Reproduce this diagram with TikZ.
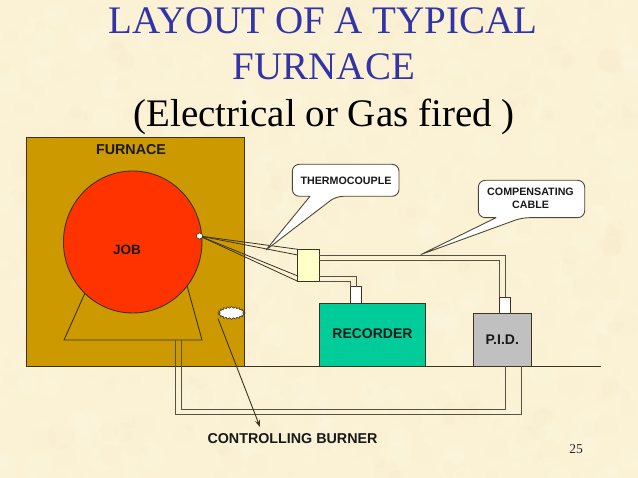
\documentclass[tikz,border=0pt]{standalone}
\usepackage{fontspec}
\usetikzlibrary{arrows.meta,shapes.geometric}
\setmainfont{Liberation Serif}
\setsansfont{Liberation Sans}
\definecolor{paper}{HTML}{FBF2D6}
\definecolor{blotA}{HTML}{FFFAEA}
\definecolor{blotB}{HTML}{F1E4BC}
\definecolor{titleblue}{HTML}{3333A8}
\definecolor{furn}{HTML}{CC9900}
\definecolor{jobred}{HTML}{FF3300}
\definecolor{edge}{HTML}{3A3320}
\definecolor{recgreen}{HTML}{00CC99}
\definecolor{pidgrey}{HTML}{C0C0C0}
\definecolor{tcyellow}{HTML}{FFFFC8}
\tikzset{
  px/.style={x=1pt,y=-1pt},
  ln/.style={draw=edge,line width=0.9pt},
  wire/.style={draw=edge!85!white,line width=0.8pt},
  boxn/.style={ln,inner sep=0pt,outer sep=0pt},
  lbl/.style={font=\sffamily\bfseries,text=black!90,inner sep=0pt,align=center},
  ttl/.style={font=\fontsize{39}{44}\selectfont,inner sep=0pt,anchor=base},
  callout/.style={draw=edge!90!white,fill=white,line width=0.9pt,line join=round},
  big/.style={font=\sffamily\bfseries\fontsize{14}{16}\selectfont},
  small/.style={font=\sffamily\bfseries\fontsize{10.7}{13.5}\selectfont}
}
\begin{document}
\begin{tikzpicture}[px]
\useasboundingbox (0,0) rectangle (638,478);
\fill[paper] (0,0) rectangle (638,478);
\pgfmathsetseed{4711}
\foreach \i in {1,...,700}{
  \pgfmathsetmacro{\xa}{random(0,638)}
  \pgfmathsetmacro{\ya}{random(0,478)}
  \pgfmathsetmacro{\ra}{random(3,13)}
  \pgfmathtruncatemacro{\pick}{random(0,1)}
  \ifnum\pick=0
    \fill[blotA,opacity=.13] (\xa,\ya) circle[radius=\ra];
  \else
    \fill[blotB,opacity=.09] (\xa,\ya) circle[radius=\ra];
  \fi
}
% title
\node[ttl,text=titleblue] (t1) at (323,33.5) {LAYOUT OF A TYPICAL};
\node[ttl,text=titleblue] (t2) at (324,80) {FURNACE};
\node[ttl,text=black] (t3) at (324,126.5) {(Electrical or Gas fired )};
% furnace
\node[boxn,fill=furn,minimum width=218pt,minimum height=229.5pt] (furnace) at (135.5,251.75) {};
% base line
\coordinate (lineend) at (601,366.5);
\draw[ln] (furnace.south east) -- (lineend);
% trapezoid stand
\coordinate (tl) at (85,293);
\coordinate (tr) at (186,282);
\coordinate (bl) at (64,340);
\coordinate (br) at (202,340);
\draw[ln] (tl) -- (bl) -- (br) -- (tr);
% job
\node[boxn,ellipse,fill=jobred,minimum width=138.5pt,minimum height=142pt] (job) at (132.7,242) {};
\node[lbl,font=\sffamily\bfseries\fontsize{13.5}{16}\selectfont] (joblbl) at (127,250) {JOB};
\node[lbl,font=\sffamily\bfseries\fontsize{14.3}{16}\selectfont] (furnlbl) at (131,150) {FURNACE};
% boxes
\node[boxn,fill=pidgrey,minimum width=58.6pt,minimum height=53.5pt,lbl,big] (pid) at (502.3,339.75) {P.I.D.};
\node[boxn,fill=recgreen,minimum width=106pt,minimum height=63.5pt] (rec) at (372,334.75) {};
\node[lbl,big] (reclbl) at (372.5,334) {RECORDER};
% pipes under the furnace to the PID
\coordinate (p1) at (175,340);
\coordinate (p2) at (181,340);
\coordinate (p3) at (505,366.5);
\coordinate (p4) at (521,366.5);
\coordinate (q1) at (175,414);
\coordinate (q2) at (181,409);
\draw[wire] (p1) -- (q1) -| (p4);
\draw[wire] (p2) -- (q2) -| (p3);
% thermocouple head and plugs
\node[boxn,fill=tcyellow,minimum width=21.3pt,minimum height=32pt] (tc) at (308.4,265.3) {};
\node[boxn,fill=white,minimum width=10.8pt,minimum height=16.3pt] (recplug) at (356.1,294.85) {};
\node[boxn,fill=white,minimum width=11.2pt,minimum height=16pt] (pidplug) at (504.9,305) {};
% junction dot and wires
\node[boxn,circle,fill=white,minimum size=6pt,line width=.5pt] (dot) at (199.5,236) {};
\draw[ln,line width=.8pt] (dot.center) -- (tc.north west);
\draw[ln,line width=.8pt] (dot.center) -- ([yshift=-5.7pt]tc.north west);
\draw[ln,line width=.8pt] (dot.center) -- ([yshift=5.3pt]tc.south west);
\draw[ln,line width=.8pt] (dot.center) -- (tc.south west);
\node[boxn,circle,fill=white,minimum size=6pt,line width=.5pt] (dottop) at (dot) {};
% wires from head
\coordinate (a1) at (319,255);
\coordinate (a2) at (319,260);
\coordinate (a3) at (319,276);
\coordinate (a4) at (319,281.3);
\coordinate (b1) at (505,297);
\coordinate (b3) at (356,286.7);
\draw[wire] (a1) -| (b1);
\draw[wire] (a2) -| (pidplug.north west);
\draw[wire] (a3) -| (b3);
\draw[wire] (a4) -| (recplug.north west);
% burner
\draw[draw=edge,fill=white,line width=.6pt,line join=miter]
  plot[samples=41,domain=0:360] ({231.5+(13.6-mod(round(\x/9),2)*2)*cos(\x)},{313+(6.4-mod(round(\x/9),2)*1.5)*sin(\x)}) -- cycle;
% arrow
\coordinate (arA) at (218,318.5);
\coordinate (arB) at (260,427);
\draw[ln,-{Stealth[length=7pt,width=5pt]}] (arA) -- (arB);
\node[lbl,font=\sffamily\bfseries\fontsize{14.3}{17}\selectfont] (burnlbl) at (292.5,439) {CONTROLLING BURNER};
% callouts
\coordinate (tip1) at (266,250);
\coordinate (tip2) at (421,254.5);
\draw[callout,rounded corners=7pt] (292.3,164.3) -- (399,164.3) -- (399,196.3) -- (336,196.3) [sharp corners] -- (tip1) -- (310,196.3) [rounded corners=7pt] -- (292.3,196.3) -- cycle;
\node[lbl,small] (tclbl) at (346,181) {THERMOCOUPLE};
\draw[callout,rounded corners=7pt] (478.3,180.3) -- (584.7,180.3) -- (584.7,217.7) -- (522,217.7) [sharp corners] -- (tip2) -- (496,217.7) [rounded corners=7pt] -- (478.3,217.7) -- cycle;
\node[lbl,small] (cclbl) at (530.5,198.5) {COMPENSATING\\CABLE};
% page number
\node[inner sep=0pt,font=\fontsize{13.5}{16}\selectfont,text=black!85] (pg) at (576,449) {25};
\end{tikzpicture}
\end{document}
